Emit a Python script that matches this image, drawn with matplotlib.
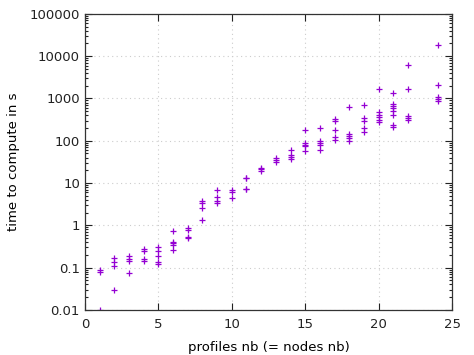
import matplotlib
matplotlib.use('Agg')
import matplotlib.pyplot as plt
from matplotlib.ticker import LogLocator, FixedLocator, NullFormatter

# time to compute (s) per number of profiles
nodes_1 = [0.09, 0.08, 0.01]
nodes_2 = [0.166, 0.135, 0.112, 0.0295]
nodes_3 = [0.185, 0.163, 0.146, 0.076]
nodes_4 = [0.28, 0.243, 0.163, 0.141]
nodes_5 = [0.30, 0.243, 0.185, 0.133, 0.124]
nodes_6 = [0.73, 0.40, 0.376, 0.34, 0.26]
nodes_7 = [0.88, 0.79, 0.54, 0.50]
nodes_8 = [3.8, 3.3, 2.6, 1.33]
nodes_9 = [7.0, 4.6, 3.7, 3.4]
nodes_10 = [6.7, 6.1, 4.4]
nodes_11 = [13.2, 12.9, 7.4, 7.1]
nodes_12 = [23, 21.4, 19.2]
nodes_13 = [39, 35, 31]
nodes_14 = [61.5, 46, 40.5, 37.8]
nodes_15 = [178, 88, 81, 74, 58]
nodes_16 = [196, 98.6, 88, 81, 59]
nodes_17 = [333, 287, 183, 122, 106]
nodes_18 = [640, 141, 127, 116, 99]
nodes_19 = [690, 345, 295, 202, 162]
nodes_20 = [1640, 470, 415, 365, 316, 270]
nodes_21 = [1350, 725, 645, 580, 505, 415, 230, 215]
nodes_22 = [6300, 1640, 390, 350, 310]
nodes_24 = [18700, 2040, 1070, 980, 850]

series = {
    1: nodes_1, 2: nodes_2, 3: nodes_3, 4: nodes_4, 5: nodes_5, 6: nodes_6,
    7: nodes_7, 8: nodes_8, 9: nodes_9, 10: nodes_10, 11: nodes_11,
    12: nodes_12, 13: nodes_13, 14: nodes_14, 15: nodes_15, 16: nodes_16,
    17: nodes_17, 18: nodes_18, 19: nodes_19, 20: nodes_20, 21: nodes_21,
    22: nodes_22, 24: nodes_24,
}

x_ticks = [0, 5, 10, 15, 20, 25]
y_ticks = [0.01, 0.1, 1, 10, 100, 1000, 10000, 100000]
y_tick_labels = ["0.01", "0.1", "1", "10", "100", "1000", "10000", "100000"]

xs, ys = [], []
for n, times in series.items():
    xs.extend([n] * len(times))
    ys.extend(times)

plt.rcParams['font.family'] = ['DejaVu Sans']
fig = plt.figure(figsize=(4.74, 3.55), dpi=100)
ax = fig.add_axes([0.179, 0.127, 0.775, 0.834])

ax.plot(xs, ys, linestyle='none', marker='+', markersize=4.5, markeredgewidth=0.9,
        color='#9400d3')

ax.set_yscale('log')
ax.set_xlim(0, 25)
ax.set_ylim(0.01, 100000)
ax.xaxis.set_major_locator(FixedLocator(x_ticks))
ax.yaxis.set_major_locator(FixedLocator(y_ticks))
ax.set_yticklabels(y_tick_labels)
ax.yaxis.set_minor_locator(LogLocator(base=10, subs=range(2, 10), numticks=20))
ax.yaxis.set_minor_formatter(NullFormatter())

ax.tick_params(which='both', direction='in', top=True, right=True, labelsize=9.5,
               colors='#222222', width=0.8)
ax.tick_params(which='major', length=5)
ax.tick_params(which='minor', length=2.5)
ax.tick_params(axis='x', pad=6)
ax.grid(True, which='major', linestyle=(0, (1, 3)), color='#cccccc', linewidth=0.8)
for sp in ax.spines.values():
    sp.set_color('#333333')
    sp.set_linewidth(0.9)

ax.set_xlabel("profiles nb (= nodes nb)", fontsize=9.5, labelpad=7)
ax.set_ylabel("time to compute in s", fontsize=9.5, labelpad=7)

fig.savefig("out.png", dpi=100)
